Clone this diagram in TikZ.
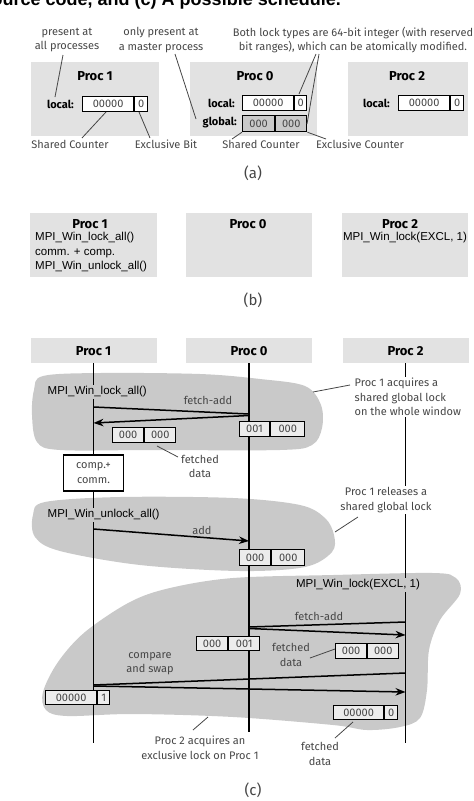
\documentclass[tikz,border=0pt]{standalone}
\usepackage{fontspec}
\setmainfont{Fira Sans}
\newfontfamily\arialf{Liberation Sans}
\usetikzlibrary{arrows.meta}
\definecolor{hdr}{RGB}{226,226,226}
\definecolor{blobc}{RGB}{201,201,201}
\definecolor{cellc}{RGB}{236,236,236}
\definecolor{txtc}{RGB}{70,70,70}
\begin{document}
\begin{tikzpicture}[x=1pt,y=-1pt,
  hdrbox/.style={fill=hdr, draw=none, inner sep=0pt},
  ptitle/.style={font=\bfseries\fontsize{13}{15}\selectfont, inner sep=0pt},
  ann/.style={font=\fontsize{11}{14.5}\selectfont, text=txtc, align=center, inner sep=1pt},
  lbl/.style={font=\bfseries\fontsize{11}{13}\selectfont, inner sep=0pt},
  code/.style={font=\arialf\fontsize{11.5}{14.5}\selectfont, inner sep=1.5pt},
  cellbox/.style={draw, line width=1.2pt, inner sep=0pt, minimum height=15pt, font=\fontsize{11}{12}\selectfont, text=txtc, anchor=north west, fill=cellc},
  lifeline/.style={line width=1.4pt},
  msg/.style={line width=1.5pt},
  msgarrow/.style={msg, -{Stealth[length=10pt,width=7.5pt]}},
  leader/.style={line width=0.8pt, draw=txtc},
  caption/.style={font=\fontsize{15}{17}\selectfont, text=txtc}
]
\useasboundingbox (0,0) rectangle (474,801);

% cut title
\node[anchor=base east, font=\arialf\bfseries\fontsize{18}{20}\selectfont, inner sep=0pt] (ttl) at (341,5.5) {source code, and (c) A possible schedule.};

% ================= (a) =================
\node[hdrbox, minimum width=128pt, minimum height=74pt] (a1) at (95,99) {};
\node[hdrbox, minimum width=127pt, minimum height=74pt] (a0) at (253.5,99) {};
\node[hdrbox, minimum width=120pt, minimum height=74pt] (a2) at (408,99) {};
\node[ptitle] (a1t) at (95,76) {Proc 1};
\node[ptitle] (a0t) at (255,76) {Proc 0};
\node[ptitle] (a2t) at (407,76) {Proc 2};

\node[cellbox, fill=white, minimum width=51pt] (l1c) at (82,96) {00000};
\node[cellbox, fill=white, minimum width=13pt] (l1b) at (l1c.north east) {0};
\node[lbl, anchor=east] (l1l) at (74,104) {local:};

\node[cellbox, fill=white, minimum width=51pt] (l0c) at (242,95) {00000};
\node[cellbox, fill=white, minimum width=12pt] (l0b) at (l0c.north east) {0};
\node[lbl, anchor=east] (l0l) at (235,103) {local:};
\node[cellbox, fill=blobc, minimum width=32pt, minimum height=16pt] (g0c) at (242,115) {000};
\node[cellbox, fill=blobc, minimum width=31pt, minimum height=16pt] (g0e) at (g0c.north east) {000};
\node[lbl, anchor=east] (g0l) at (237,123) {global:};

\node[cellbox, fill=white, minimum width=51pt] (l2c) at (398,95) {00000};
\node[cellbox, fill=white, minimum width=13pt] (l2b) at (l2c.north east) {0};
\node[lbl, anchor=east] (l2l) at (390,103) {local:};

\node[ann] (n1) at (67,40) {present at\\all processes};
\node[ann] (n2) at (161,40) {only present at\\a master process};
\node[ann] (n3) at (353,40) {Both lock types are 64-bit integer (with reserved\\bit ranges), which can be atomically modified.};

\coordinate (q1) at (63,55);
\coordinate (q1e) at (55,97);
\draw[leader] (q1) -- (q1e);
\coordinate (q2) at (175,54);
\coordinate (q2e) at (196,119);
\draw[leader] (q2) -- (q2e);
\coordinate (q3) at (316,54);
\coordinate (q3e) at (299,94);
\draw[leader] (q3) -- (q3e);
\coordinate (q4) at (319,54);
\coordinate (q4e) at (307,124);
\draw[leader] (q4) -- (q4e);

\node[ann] (sc1) at (70,144) {Shared Counter};
\node[ann] (eb1) at (166,144) {Exclusive Bit};
\node[ann] (sc0) at (261,144) {Shared Counter};
\node[ann] (ec0) at (360,144) {Exclusive Counter};
\coordinate (r1) at (106,112);
\draw[leader] (r1) -- (82,138);
\coordinate (r2) at (139,112);
\draw[leader] (r2) -- (150,138);
\draw[leader] (g0c.south west) -- (232,139);
\draw[leader] (g0e.south east) -- (326,139);

\node[caption] (capa) at (253,173) {(a)};

% ================= (b) =================
\node[hdrbox, minimum width=127pt, minimum height=64pt] (b1) at (93.5,245) {};
\node[hdrbox, minimum width=126pt, minimum height=64pt] (b0) at (249,245) {};
\node[hdrbox, minimum width=126pt, minimum height=64pt] (b2) at (405,245) {};
\node[ptitle] (b1t) at (90,224) {Proc 1};
\node[ptitle] (b0t) at (248,224) {Proc 0};
\node[ptitle] (b2t) at (400,224) {Proc 2};
\node[code, anchor=west, align=left, inner sep=0pt] (b1c) at (35,252.5) {MPI\_Win\_lock\_all()\\comm. + comp.\\MPI\_Win\_unlock\_all()};
\node[code, inner sep=0pt] (b2c) at (405,238) {MPI\_Win\_lock(EXCL, 1)};
\node[caption] (capb) at (253,300) {(b)};

% ================= (c) =================
\fill[blobc] plot[smooth cycle, tension=0.55] coordinates {(43,376) (100,373) (200,374) (260,379) (305,386) (321,405) (322,428) (312,445) (280,450) (150,450) (60,450) (37,442) (32,415) (34,390)};
\fill[blobc] plot[smooth cycle, tension=0.55] coordinates {(45,502) (120,497) (233,498) (300,505) (325,518) (334,535) (332,552) (305,567) (240,571) (140,565) (60,551) (35,537) (33,515)};
\fill[blobc] plot[smooth cycle, tension=0.55] coordinates {(43,692) (58,662) (85,632) (130,602) (170,588) (233,578) (333,575) (433,573) (456,578) (460,594) (440,620) (429,650) (427,690) (420,718) (400,727) (367,730) (333,725) (233,717) (133,714) (67,716) (46,710)};

\node[hdrbox, minimum width=126pt, minimum height=25pt] (h1) at (93.5,350.5) {};
\node[hdrbox, minimum width=126pt, minimum height=25pt] (h0) at (249,350.5) {};
\node[hdrbox, minimum width=126pt, minimum height=25pt] (h2) at (405.5,350.5) {};
\node[ptitle] (h1t) at (93.5,351) {Proc 1};
\node[ptitle] (h0t) at (249,351) {Proc 0};
\node[ptitle] (h2t) at (405.5,351) {Proc 2};

\coordinate (e1) at (93.5,743);
\coordinate (e0) at (249,732);
\coordinate (e2) at (405.5,743);
\draw[lifeline] (h1.south) -- (e1);
\draw[lifeline] (h0.south) -- (e0);
\draw[lifeline] (h2.south) -- (e2);

% blob 1
\coordinate (m1a) at (93.5,407);
\coordinate (m1b) at (249,414);
\coordinate (m1c) at (249,415.5);
\coordinate (m1d) at (93.5,423);
\draw[msg] (m1a) -- (m1b);
\draw[msgarrow] (m1c) -- (m1d);
\node[ann] (fa1) at (208,400) {fetch-add};
\node[cellbox, minimum width=30pt] (v1a) at (239,421) {001};
\node[cellbox, minimum width=34pt] (v1b) at (v1a.north east) {000};
\node[cellbox, minimum width=31pt] (v2a) at (112,427) {000};
\node[cellbox, minimum width=31pt] (v2b) at (v2a.north east) {000};
\node[ann] (fd1) at (200,466.5) {fetched\\data};
\coordinate (k1) at (157,446);
\draw[leader] (k1) -- (178,457);
\node[code, fill=blobc, anchor=west] (lk) at (46,392) {MPI\_Win\_lock\_all()};

\node[draw, line width=1.2pt, fill=white, minimum width=60pt, minimum height=36pt, ann, inner sep=0pt] (cc) at (93.5,473) {comp.+\\comm.};

\node[ann, fill=white, align=left, anchor=west, inner sep=1.5pt] (pa) at (353,397) {Proc 1 acquires a\\shared global lock\\on the whole window};
\coordinate (k2) at (313,392);
\draw[leader] (k2) -- (350,385);

% blob 2
\node[code, fill=blobc, anchor=west] (ulk) at (46,515) {MPI\_Win\_unlock\_all()};
\coordinate (m2a) at (93.5,529);
\coordinate (m2b) at (249,541);
\draw[msgarrow] (m2a) -- (m2b);
\node[ann] (ad) at (202,530) {add};
\node[cellbox, minimum width=31pt, minimum height=16pt] (v3a) at (239,549) {000};
\node[cellbox, minimum width=33pt, minimum height=16pt] (v3b) at (v3a.north east) {000};
\node[ann, fill=white, inner sep=1.5pt] (pr) at (386,500) {Proc 1 releases a\\shared global lock};
\coordinate (k3) at (335,532);
\draw[leader] (k3) -- (358,517);

% blob 3
\node[code, fill=blobc] (xl) at (358,585) {MPI\_Win\_lock(EXCL, 1)};
\coordinate (m3a) at (405.5,622);
\coordinate (m3b) at (249,627);
\coordinate (m3c) at (249,628.5);
\coordinate (m3d) at (405.5,635);
\draw[msg] (m3a) -- (m3b);
\draw[msgarrow] (m3c) -- (m3d);
\node[ann] (fa3) at (319,616) {fetch-add};
\node[cellbox, minimum width=31pt, minimum height=14pt] (v4a) at (196,636) {000};
\node[cellbox, minimum width=31pt, minimum height=14pt] (v4b) at (v4a.north east) {001};
\node[ann] (fd3) at (291,655) {fetched\\data};
\coordinate (k4) at (310,658);
\draw[leader] (k4) -- (335,649);
\node[cellbox, minimum width=31pt] (v5a) at (335,643) {000};
\node[cellbox, minimum width=31pt] (v5b) at (v5a.north east) {000};

\coordinate (m4a) at (405.5,673);
\coordinate (m4b) at (93.5,685);
\coordinate (m4c) at (93.5,686);
\coordinate (m4d) at (405.5,692);
\draw[msg] (m4a) -- (m4b);
\draw[msgarrow] (m4c) -- (m4d);
\node[ann] (cas) at (150,663.5) {compare\\and swap};
\node[cellbox, minimum width=51pt, minimum height=14pt] (v6a) at (45,690) {00000};
\node[cellbox, minimum width=12pt, minimum height=14pt] (v6b) at (v6a.north east) {1};
\node[cellbox, minimum width=50pt, minimum height=14pt] (v7a) at (333,705) {00000};
\node[cellbox, minimum width=13pt, minimum height=14pt] (v7b) at (v7a.north east) {0};

\node[ann] (pe) at (200,748) {Proc 2 acquires an\\exclusive lock on Proc 1};
\coordinate (k5) at (193,730);
\draw[leader] (k5) -- (208,717);
\node[ann] (fd4) at (320,754) {fetched\\data};
\coordinate (k6) at (335,738);
\draw[leader] (k6) -- (353,722);

\node[caption] (capc) at (253,790) {(c)};
\end{tikzpicture}
\end{document}
